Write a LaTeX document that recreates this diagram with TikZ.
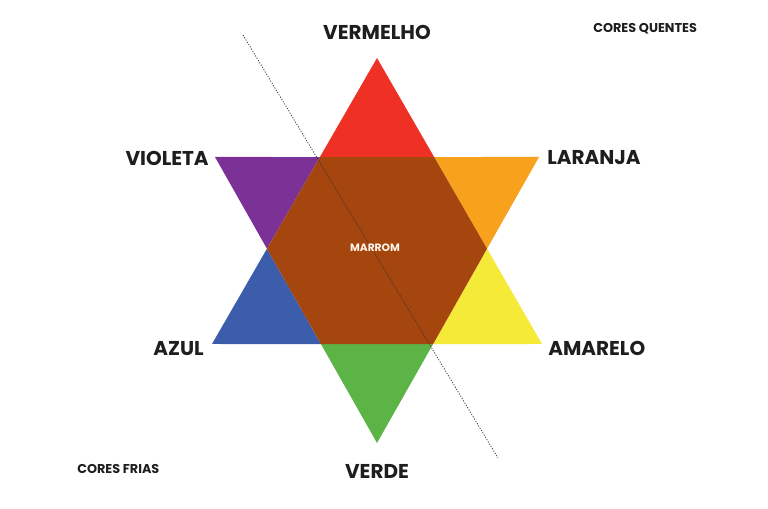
\documentclass[tikz,border=0pt]{standalone}
\usepackage{fontspec}
\setmainfont{Poppins}[UprightFont=* Bold]
\definecolor{cred}{HTML}{EE3124}
\definecolor{corange}{HTML}{F7A11D}
\definecolor{cyellow}{HTML}{F4EA37}
\definecolor{cgreen}{HTML}{5DB446}
\definecolor{cblue}{HTML}{3B5DAC}
\definecolor{cviolet}{HTML}{7B3195}
\definecolor{cbrown}{HTML}{A5460F}
\definecolor{ctext}{HTML}{1E1E1E}
\tikzset{
  big/.style={font=\fontsize{15}{16}\selectfont, text=ctext, inner sep=0pt},
  small/.style={font=\fontsize{9.6}{10}\selectfont, text=ctext, inner sep=0pt},
  divider/.style={line width=0.6pt, dash pattern=on 0.8pt off 1.2pt, draw=black!80}
}
\begin{document}
\begin{tikzpicture}[x=0.75pt,y=-0.75pt]
\useasboundingbox (0,0) rectangle (768,509);
\fill[white] (0,0) rectangle (768,509);
% upward triangle
\coordinate (T) at (377,58);
\coordinate (BL) at (212,344);
\coordinate (BR) at (542,344);
% downward triangle
\coordinate (TL) at (215,157);
\coordinate (TR) at (539,157);
\coordinate (B) at (377,443);
% hexagon vertices
\coordinate (h1) at (intersection of T--BL and TL--TR);
\coordinate (h2) at (intersection of T--BR and TL--TR);
\coordinate (h3) at (intersection of T--BR and TR--B);
\coordinate (h4) at (intersection of BL--BR and TR--B);
\coordinate (h5) at (intersection of BL--BR and TL--B);
\coordinate (h6) at (intersection of T--BL and TL--B);
\fill[cred] (T) -- (h2) -- (h1) -- cycle;
\fill[corange] (h2) -- (TR) -- (h3) -- cycle;
\fill[cyellow] (h3) -- (BR) -- (h4) -- cycle;
\fill[cgreen] (h4) -- (B) -- (h5) -- cycle;
\fill[cblue] (h5) -- (BL) -- (h6) -- cycle;
\fill[cviolet] (h6) -- (TL) -- (h1) -- cycle;
\fill[cbrown] (h1) -- (h2) -- (h3) -- (h4) -- (h5) -- (h6) -- cycle;
% divider line
\coordinate (d1) at (243,35);
\coordinate (d2) at (498,458);
\draw[divider] (d1) -- (d2);
% labels
\node[big] (vermelho) at (377,32) {VERMELHO};
\node[big, anchor=east] (violeta) at (209,158) {VIOLETA};
\node[big, anchor=west] (laranja) at (547,158) {LARANJA};
\node[big, anchor=east] (azul) at (204,349) {AZUL};
\node[big, anchor=west] (amarelo) at (548,348) {AMARELO};
\node[big] (verde) at (377,471) {VERDE};
\node[font=\fontsize{8}{9}\selectfont, text=white!92!orange, inner sep=0pt] (marrom) at (375,248) {MARROM};
\node[small, anchor=west] (quentes) at (593,29) {CORES QUENTES};
\node[small, anchor=west] (frias) at (77,469) {CORES FRIAS};
\end{tikzpicture}
\end{document}
